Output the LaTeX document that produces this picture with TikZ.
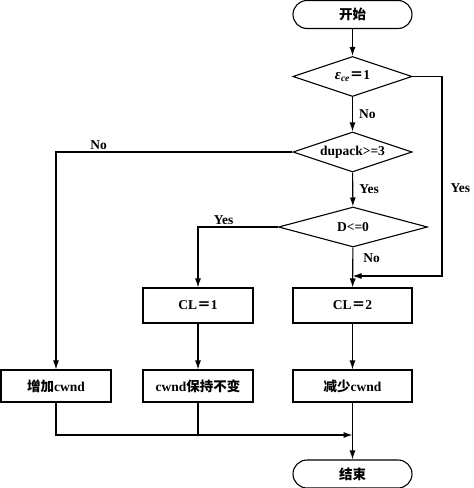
\documentclass[tikz,border=0pt]{standalone}
\usepackage{fontspec}
\setmainfont{Liberation Serif}
\newfontfamily\cjk{Noto Sans CJK SC}
\newcommand\fullEq{{\cjk ＝}}
\usetikzlibrary{shapes.geometric,arrows.meta}

\begin{document}
\begin{tikzpicture}[
        x=1pt, y=-1pt, line width=1.1pt,
        every node/.style={font=\fontsize{13.5}{15}\selectfont\bfseries},
        term/.style={draw, rounded corners=14pt, minimum width=119pt, minimum height=28pt},
        test/.style={draw, diamond, aspect=3, inner sep=0pt, minimum width=119pt, minimum height=40pt},
        proc/.style={draw, minimum width=110pt, minimum height=32pt},
        arr/.style={-{Latex[length=9pt,width=6pt]}},
        lbl/.style={inner sep=2pt}
    ]
    \useasboundingbox (0,0) rectangle (474,488);

    \node[term] (start) at (352.5,14.5) {\cjk 开始};
    \node[test] (ece) at (352.5,76.5) {{\itshape\fontsize{15}{15}\selectfont ε}\textsubscript{\itshape ce}\fullEq1};
    \node[test] (dup) at (352.5,152) {dupack>=3};
    \node[test, minimum width=149pt] (dd) at (353,227) {D<=0};
    \node[proc, minimum height=35pt] (cla) at (198,305.5) {CL\fullEq1};
    \node[proc, minimum width=119pt, minimum height=35pt] (clb) at (352.5,305.5) {CL\fullEq2};
    \node[proc] (inc) at (56,386) {{\cjk 增加}cwnd};
    \node[proc] (keep) at (198,386) {cwnd{\cjk 保持不变}};
    \node[proc, minimum width=119pt] (dec) at (352.5,386) {{\cjk 减少}cwnd};
    \node[term] (stop) at (352.5,474) {\cjk 结束};

    \coordinate (side) at (442,276);
    \coordinate (join) at (352.5,276);
    \coordinate (low) at (352.5,435);
    \coordinate (mid) at (198,435);

    \draw[arr] (start) -- (ece);
    \draw[arr] (ece) -- node[lbl, right, xshift=4pt] (n1) {No} (dup);
    \draw[arr] (ece.east) -| node[lbl, right, pos=0.78, xshift=6pt] (y1) {Yes} (side) -- (join);
    \draw[arr] (dup.west) -| node[lbl, above, pos=0.41] (n2) {No} (inc);
    \draw[arr] (dup) -- node[lbl, right, xshift=4pt] (y2) {Yes} (dd);
    \draw[arr] (dd.west) -| node[lbl, above, pos=0.34] (y3) {Yes} (cla);
    \draw[arr] (dd) -- node[lbl, right, pos=0.27, xshift=8pt] (n3) {No} (clb);
    \draw[arr] (cla) -- (keep);
    \draw[arr] (clb) -- (dec);
    \draw[arr] (inc.south) |- (low);
    \draw (keep.south) -- (mid);
    \draw[arr] (dec) -- (stop);
\end{tikzpicture}
\end{document}
